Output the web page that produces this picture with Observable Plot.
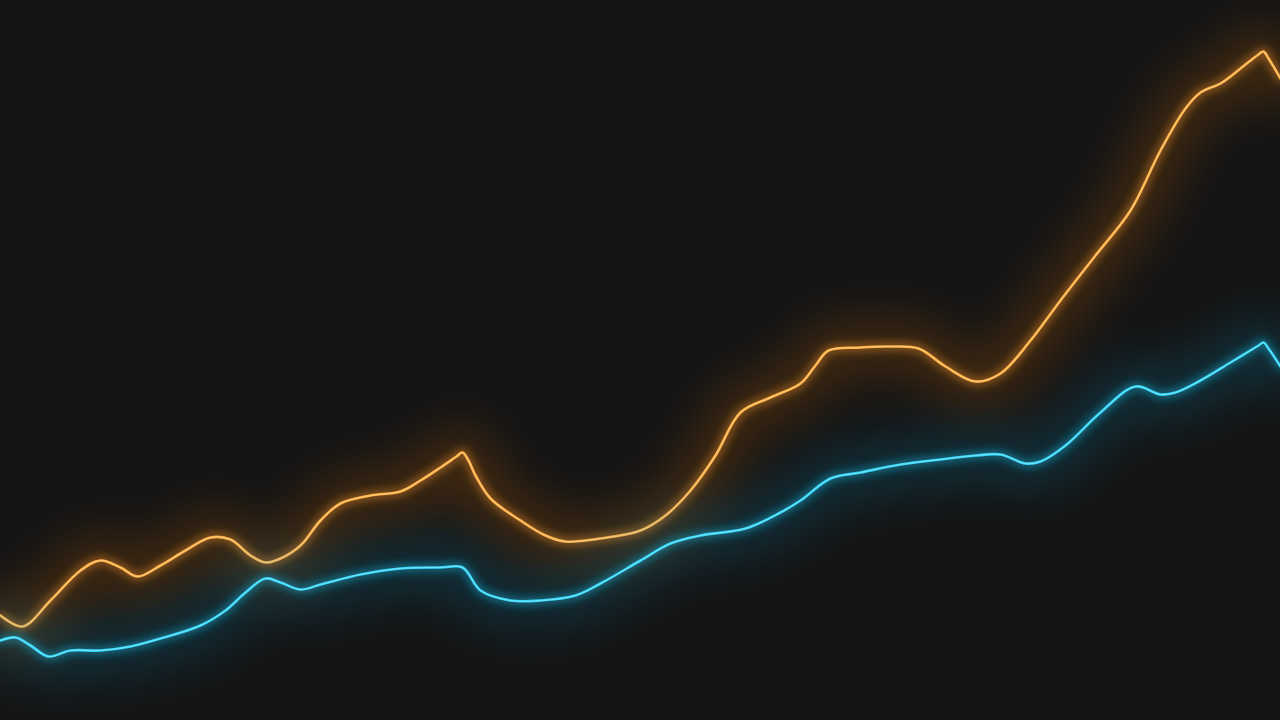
<!DOCTYPE html>
<html>
<head>
<meta charset="utf-8">
<script src="https://cdn.jsdelivr.net/npm/d3@7"></script>
<script src="https://cdn.jsdelivr.net/npm/@observablehq/plot@0.6"></script>
<style>
  html, body { margin: 0; padding: 0; background: #141414; overflow: hidden; }
  #chart svg { display: block; }
</style>
</head>
<body>
<div id="chart"></div>
<script>
// Orange series (upper line)
const orangeT = [0,2.2,5,8,10,12,13.7,16,18.5,21,23,25,26.5,28,30,32,34,37,40,42,44,45.6,46.2,46.8,47.5,49,52,54.5,56.5,60,64,66.5,69,71.5,74,77,80,81.5,82.8,86,89,91.8,94.5,97.5,100,103,106,109.5,113,116,118.5,120,122,124,125.8,126.3,126.8,128];
const orangeV = [10.5,9.4,12,15,16,15.3,14.4,15.5,17,18.3,18.1,16.5,15.8,16.2,17.5,20,21.7,22.5,22.9,24,25.3,26.4,26.8,26,24.5,22.2,20,18.5,17.9,18.2,19,20.5,23,26.5,30.8,32.3,33.7,35.5,37,37.3,37.4,37.2,35.4,33.9,34.7,38,42,46.5,51,57,61.2,62.8,63.7,65.2,66.6,66.9,66.2,64.2];
// Cyan series (lower line)
const cyanT = [0,1.5,3,4.8,7,10,13,16,20,22.5,24.5,26.5,28,30,32,36,40,44,46.2,48,51,54,57.5,60,64,67,70,74.5,78,80,83,86,90,94,97.5,100,102.5,104,106.5,110,113.5,116,117.5,120,123,125.8,126.3,126.8,128];
const cyanV = [8,8.3,7.5,6.4,7,7,7.4,8.2,9.5,11,12.8,14.2,13.8,13.1,13.6,14.6,15.2,15.3,15.3,13,12,12,12.5,13.7,16,17.7,18.5,19.2,20.8,22,24.2,24.8,25.6,26.1,26.5,26.6,25.7,25.9,27.5,30.8,33.4,32.6,32.8,34,35.8,37.5,37.8,37.2,35.4];

const orange = orangeT.map((t, i) => ({t, v: orangeV[i]}));
const cyan = cyanT.map((t, i) => ({t, v: cyanV[i]}));

const curve = "catmull-rom";
const layers = [];
for (const [data, glowWide, glowMid, core, hi] of [
  [orange, "#ff8418", "#ff9a2a", "#ffb24a", "#ffdc9a"],
  [cyan, "#0a9fd8", "#1cc0ee", "#33d4f7", "#aaf2ff"]
]) {
  layers.push(Plot.line(data, {x: "t", y: "v", curve, stroke: glowWide, strokeWidth: 50, strokeOpacity: 0.2}));
  layers.push(Plot.line(data, {x: "t", y: "v", curve, stroke: glowMid, strokeWidth: 8, strokeOpacity: 0.45}));
  layers.push(Plot.line(data, {x: "t", y: "v", curve, stroke: core, strokeWidth: 2.6}));
  layers.push(Plot.line(data, {x: "t", y: "v", curve, stroke: hi, strokeWidth: 0.9, strokeOpacity: 0.6}));
}

const chart = Plot.plot({
  width: 1280,
  height: 720,
  margin: 0,
  x: {domain: [0, 128], axis: null},
  y: {domain: [0, 72], axis: null},
  style: {background: "#141414"},
  marks: layers
});

const svg = d3.select(chart);
const defs = svg.insert("defs", ":first-child");
defs.append("filter").attr("id", "blurWide").attr("x", "-20%").attr("y", "-50%").attr("width", "140%").attr("height", "200%")
  .append("feGaussianBlur").attr("stdDeviation", 24);
defs.append("filter").attr("id", "blurMid").attr("x", "-20%").attr("y", "-50%").attr("width", "140%").attr("height", "200%")
  .append("feGaussianBlur").attr("stdDeviation", 4);
defs.append("filter").attr("id", "blurCore").attr("x", "-20%").attr("y", "-50%").attr("width", "140%").attr("height", "200%")
  .append("feGaussianBlur").attr("stdDeviation", 0.5);

const groups = chart.querySelectorAll("g[aria-label='line']");
groups.forEach((g, i) => {
  const k = i % 4;
  if (k === 0) g.setAttribute("filter", "url(#blurWide)");
  else if (k === 1) g.setAttribute("filter", "url(#blurMid)");
  else if (k === 2) g.setAttribute("filter", "url(#blurCore)");
});

document.getElementById("chart").append(chart);
</script>
</body>
</html>
